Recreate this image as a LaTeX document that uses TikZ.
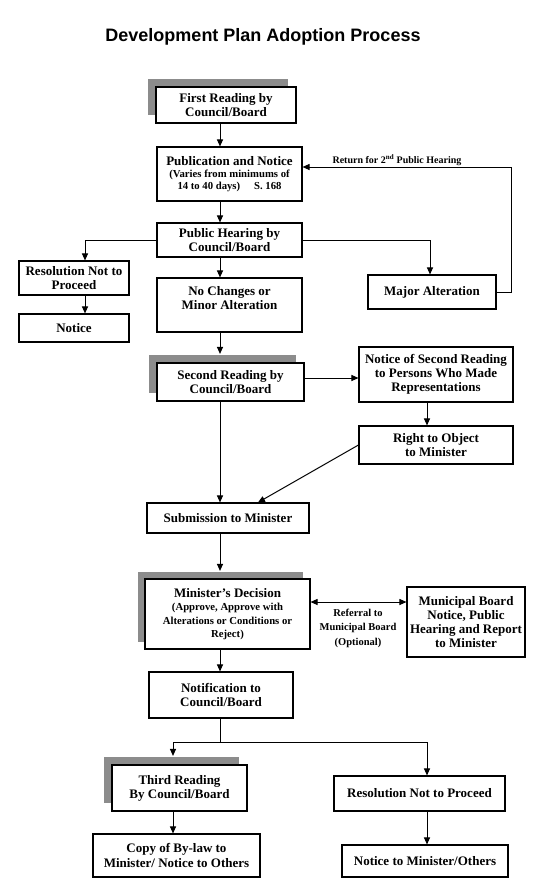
\documentclass[tikz,border=0pt]{standalone}
\usepackage{fontspec}
\setmainfont{Liberation Serif}
\newfontfamily\titlefont{Liberation Sans}
\usetikzlibrary{arrows.meta,shadows}
\newcommand\smallfnt{\fontsize{10.7}{12}\selectfont}
\begin{document}
\begin{tikzpicture}[x=1pt,y=-1pt,
  box/.style={draw, line width=1.1pt, fill=white, inner sep=0pt, align=center,
    font=\bfseries\fontsize{13}{14.2}\selectfont},
  shbox/.style={box, general shadow={fill=black!45, shadow xshift=-8pt, shadow yshift=8.5pt}},
  arr/.style={line width=1pt, -{Triangle[length=7pt,width=6pt]}},
  conn/.style={line width=1pt},
  lbl/.style={font=\bfseries\fontsize{10}{12}\selectfont, inner sep=0pt, align=center}]
\fill[white] (0,0) rectangle (540,887);
\useasboundingbox (0,0) rectangle (540,887);

\node[font=\titlefont\bfseries\fontsize{18}{20}\selectfont] (title) at (263,37) {Development Plan Adoption Process};

% boxes
\node[shbox, minimum width=140pt, minimum height=36pt] (first) at (226,105) {First Reading by\\Council/Board};
\node[box, minimum width=145pt, minimum height=54pt] (pub) at (229.5,174)
  {Publication and Notice\\[-2.2pt]\smallfnt (Varies from minimums of\\[-2.2pt]\smallfnt 14 to 40 days)\hspace{1.3em}S. 168};
\node[box, minimum width=145pt, minimum height=34pt] (ph) at (229.5,240) {Public Hearing by\\Council/Board};
\node[box, minimum width=110pt, minimum height=34pt] (res1) at (74,278) {Resolution Not to\\Proceed};
\node[box, minimum width=110pt, minimum height=28pt] (notice1) at (74,328) {Notice};
\node[box, minimum width=145pt, minimum height=54pt] (nochg) at (229.5,305) {No Changes or\\Minor Alteration\\\mbox{}};
\node[box, minimum width=128pt, minimum height=34pt] (major) at (432,292) {Major Alteration};
\node[shbox, minimum width=147pt, minimum height=38pt] (second) at (230.5,382) {Second Reading by\\Council/Board};
\node[box, minimum width=154pt, minimum height=55pt] (notice2) at (436,374.5) {Notice of Second Reading\\to Persons Who Made\\Representations};
\node[box, minimum width=154pt, minimum height=38pt] (rto) at (436,445) {Right to Object\\to Minister};
\node[box, minimum width=162pt, minimum height=30pt] (sub) at (228,518) {Submission to Minister};
\node[box, minimum width=165pt, minimum height=70pt,
  general shadow={fill=black!45, shadow xshift=-7pt, shadow yshift=7.5pt}] (min) at (227.5,614)
  {Minister’s Decision\\[-0.8pt]\smallfnt (Approve, Approve with\\[-0.8pt]\smallfnt Alterations or Conditions or\\[-0.8pt]\smallfnt Reject)};
\node[box, minimum width=118pt, minimum height=70pt] (muni) at (466,622) {Municipal Board\\Notice, Public\\Hearing and Report\\to Minister};
\node[lbl, font=\bfseries\fontsize{10.5}{14.5}\selectfont] (referral) at (358,628) {Referral to\\Municipal Board\\(Optional)};
\node[box, minimum width=144pt, minimum height=46pt] (notif) at (221,695) {Notification to\\Council/Board};
\node[shbox, minimum width=135pt, minimum height=46pt] (third) at (179.5,788) {Third Reading\\By Council/Board};
\node[box, minimum width=171pt, minimum height=35pt] (res2) at (419.5,793.5) {Resolution Not to Proceed};
\node[box, minimum width=167pt, minimum height=43pt] (copy) at (176.5,855.5) {Copy of By-law to\\Minister/ Notice to Others};
\node[box, minimum width=166pt, minimum height=32pt] (notice3) at (425,861) {Notice to Minister/Others};

\node[lbl] (ret) at (397,160) {Return for 2\textsuperscript{nd} Public Hearing};

% helper coordinates
\coordinate (c1) at (220,0);
\coordinate (c0) at (85,0);
\coordinate (c3) at (430,0);
\coordinate (r1) at (511,167);
\coordinate (c2) at (0,378);
\coordinate (c4) at (427,0);
\coordinate (d1) at (258,0);
\coordinate (c5) at (0,602);
\coordinate (split) at (220,742);
\coordinate (cl) at (173,0);
\coordinate (cr) at (427,0);
\coordinate (secondtop) at ([yshift=8.5pt]second.north);
\coordinate (mintop) at ([yshift=7.5pt]min.north);
\coordinate (thirdtop) at ([yshift=8.5pt]third.north);

% connectors
\draw[arr] (first.south -| c1) -- (pub.north -| c1);
\draw[arr] (pub.south -| c1) -- (ph.north -| c1);
\draw[arr] (ph.south -| c1) -- (nochg.north -| c1);
\draw[arr] (ph.west) -| (res1.north -| c0);
\draw[arr] (res1.south -| c0) -- (notice1.north -| c0);
\draw[arr] (ph.east) -| (major.north -| c3);
\draw[arr] (major.east) -| (r1) -- (pub.east |- r1);
\draw[arr] (nochg.south -| c1) -- (secondtop -| c1);
\draw[arr] (second.east |- c2) -- (notice2.west |- c2);
\draw[arr] (notice2.south -| c4) -- (rto.north -| c4);
\draw[arr] (rto.west) -- (sub.north -| d1);
\draw[arr] (second.south -| c1) -- (sub.north -| c1);
\draw[arr] (sub.south -| c1) -- (mintop -| c1);
\draw[line width=1pt, {Triangle[length=7pt,width=6pt]}-{Triangle[length=7pt,width=6pt]}] (min.east |- c5) -- (muni.west |- c5);
\draw[arr] (min.south -| c1) -- (notif.north -| c1);
\draw[conn] (notif.south -| split) -- (split);
\draw[arr] (split) -| (thirdtop -| cl);
\draw[arr] (split) -| (res2.north -| cr);
\draw[arr] (third.south -| cl) -- (copy.north -| cl);
\draw[arr] (res2.south -| cr) -- (notice3.north -| cr);
\end{tikzpicture}
\end{document}
